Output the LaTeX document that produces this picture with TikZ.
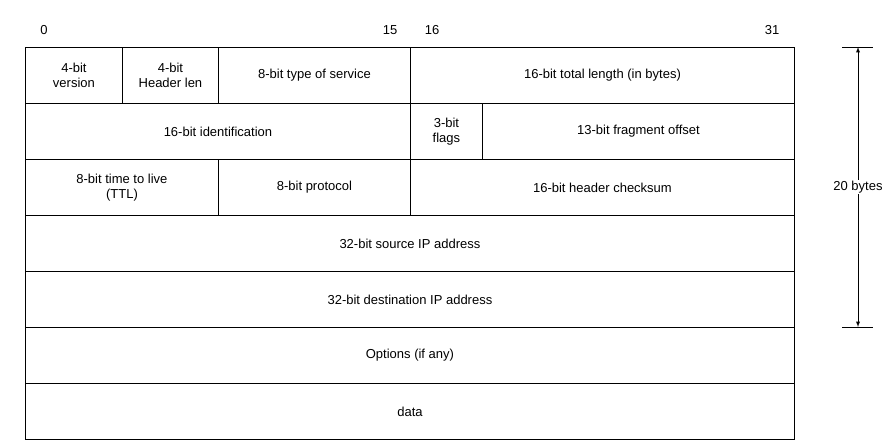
\documentclass[tikz,border=0pt]{standalone}
\usepackage{fontspec}
\setmainfont{Liberation Sans}
\begin{document}
\begin{tikzpicture}[x=1pt,y=-1pt,
  cell/.style={draw,line width=0.9pt,anchor=north west,inner sep=0pt,align=center,font=\fontsize{13}{14.5}\selectfont},
  lbl/.style={font=\fontsize{13}{15}\selectfont,inner sep=1pt}]
\useasboundingbox (0,0) rectangle (889,444);
\newcommand\cellat[5]{\node[cell,minimum width=#3 pt - #2 pt,minimum height=56pt] (#1) at (#2,#4) {#5};}
\cellat{ver}{25}{122}{47}{4-bit\\version}
\cellat{hl}{122}{218}{47}{4-bit\\Header len}
\cellat{tos}{218}{410}{47}{8-bit type of service}
\cellat{tl}{410}{794}{47}{16-bit total length (in bytes)}
\cellat{id}{25}{410}{103}{16-bit identification}
\cellat{fl}{410}{482}{103}{3-bit\\flags}
\cellat{fo}{482}{794}{103}{13-bit fragment offset}
\cellat{ttl}{25}{218}{159}{8-bit time to live\\(TTL)}
\cellat{pr}{218}{410}{159}{8-bit protocol}
\cellat{cs}{410}{794}{159}{16-bit header checksum}
\cellat{src}{25}{794}{215}{32-bit source IP address}
\cellat{dst}{25}{794}{271}{32-bit destination IP address}
\cellat{opt}{25}{794}{327}{Options (if any)}
\cellat{dat}{25}{794}{383}{data}
\node[lbl] (n0) at (44,30) {0};
\node[lbl] (n15) at (390,30) {15};
\node[lbl] (n16) at (432,30) {16};
\node[lbl] (n31) at (772,30) {31};
\coordinate (tt) at (858,47);
\coordinate (tb) at (858,327);
\draw[line width=0.9pt] (842,47) -- (873,47);
\draw[line width=0.9pt] (842,327) -- (873,327);
\node[lbl,fill=white] (b20) at (858,187) {20 bytes};
\draw[line width=0.9pt,-latex] (b20) -- (tt);
\draw[line width=0.9pt,-latex] (b20) -- (tb);
\end{tikzpicture}
\end{document}
